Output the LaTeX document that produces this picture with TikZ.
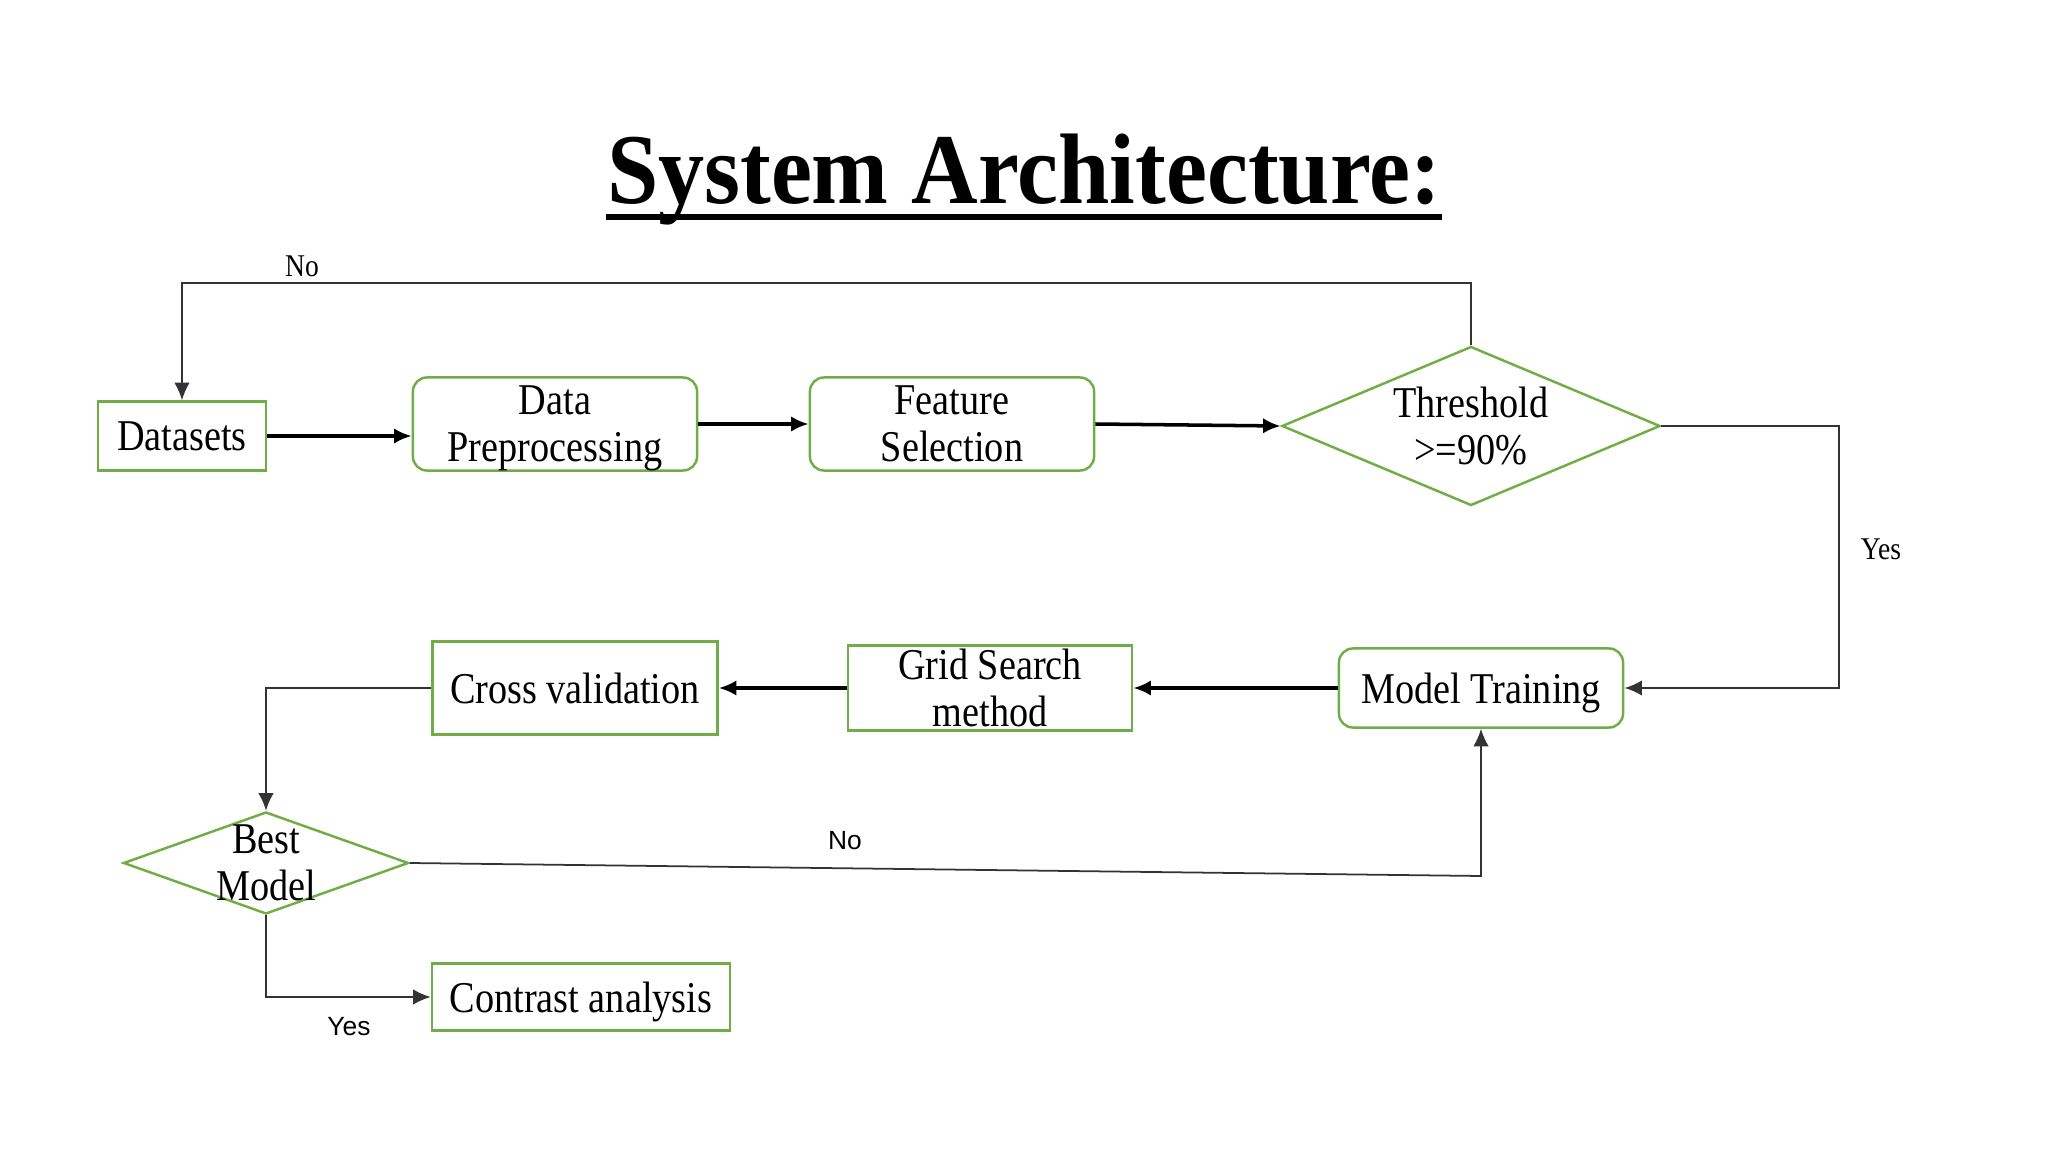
\documentclass[tikz,border=0pt]{standalone}
\usepackage{fontspec}
\setmainfont[FakeStretch=0.87]{Liberation Serif}
\newfontfamily\titlefont[FakeStretch=0.92]{Liberation Serif}
\newfontfamily\labelfont{Liberation Sans}
\usepackage{xcolor}
\definecolor{Leaf Green}{HTML}{70AD47}
\colorlet{cGreen}{Leaf Green}
\usepackage{tikz}
\usetikzlibrary{arrows.meta, shapes.geometric, positioning}
\tikzset{
	line width = .8pt,
	>={Latex[length=5pt,width=4.4pt]},
	font = \fontsize{12.5}{13.4}\selectfont,
	box/.style={
		draw=cGreen,
		line width=.7pt,
		align=center,
		inner sep=0pt,
		text depth=0pt,
		minimum width=2.84cm,
		minimum height=.93cm
	},
	roundbox/.style={
		box,
		rounded corners=4pt
	},
	decision/.style={
		diamond,
		draw=cGreen,
		line width=.7pt,
		align=center,
		text depth=0pt,
		inner sep=-10pt
	},
	flow/.style={
		->,
		line width=1pt
	},
	loop/.style={
		->,
		line width=.5pt,
		draw=black!80
	},
	tag/.style={
		font=\fontsize{9}{10}\selectfont
	},
	sanstag/.style={
		font=\labelfont\fontsize{7.5}{9}\selectfont
	}
}

\begin{document}
\begin{tikzpicture}[x=0.01cm, y=-0.01cm]
		\useasboundingbox (0,0) rectangle (2048,1152);

		\node[inner sep=0pt, anchor=base, font=\titlefont\bfseries\fontsize{28.5}{30}\selectfont] (title) at (1024,204) {System Architecture:};
		\draw[line width=1.8pt] ([yshift=-.13cm]title.base west) -- ([yshift=-.13cm]title.base east);

		\node[box, minimum width=1.68cm, minimum height=.69cm] at (182,436) (ds) {Datasets};
		\node[roundbox] at (555,424) (dp) {Data\\Preprocessing};
		\node[roundbox] at (952,424) (fs) {Feature\\Selection};
		\node[decision, aspect=2.38, minimum width=3.78cm, minimum height=1.59cm] at (1471,426) (th) {Threshold\\>=90\%};

		\node[roundbox, minimum height=.79cm] at (1481,688) (mt) {Model Training};
		\node[box, minimum height=.85cm] at (990,688) (gs) {Grid Search\\method};
		\node[box, minimum width=2.85cm] at (575,688) (cv) {Cross validation};
		\node[decision, aspect=2.8, minimum width=2.85cm, minimum height=1.02cm] at (266,863) (bm) {Best\\Model};
		\node[box, minimum width=2.98cm, minimum height=.67cm] at (581,997) (ca) {Contrast analysis};

		\coordinate (top) at (0,283);
		\coordinate (right) at (1839,0);
		\coordinate (nobot) at (1481,876);

		\draw[flow] (ds.east) -- (ds.east -| dp.west);
		\draw[flow] (dp.east) -- (fs.west);
		\draw[flow] (fs.east) -- (th.west);
		\draw[loop] (th.north) -- (th.north |- top) -| (ds.north);
		\draw[loop, line width=.7pt] (th.east) -- (th.east -| right) |- (mt.east);
		\draw[flow] (mt.west) -- (gs.east);
		\draw[flow] (gs.west) -- (cv.east);
		\draw[loop] (cv.west) -| (bm.north);
		\draw[loop] (bm.east) -- (nobot) -- (mt.south);
		\draw[loop] (bm.south) |- (ca.west);

		\node[tag] at (302,266) (notop) {No};
		\node[tag] at (1881,549) (yesright) {Yes};
		\node[sanstag] at (845,841) (nobest) {No};
		\node[sanstag] at (349,1027) (yesbest) {Yes};
	\end{tikzpicture}
\end{document}
